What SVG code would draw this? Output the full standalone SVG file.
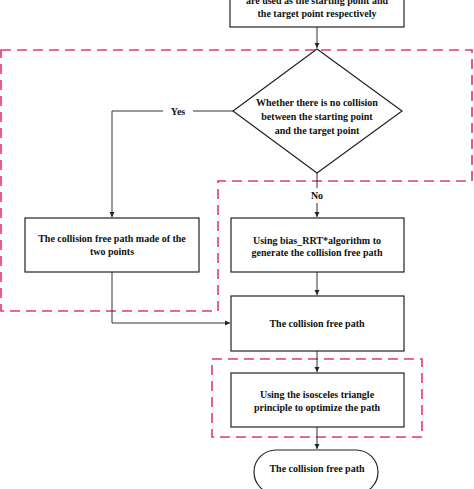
<svg xmlns="http://www.w3.org/2000/svg" width="474" height="489" viewBox="0 0 474 489">
<style>
.box{fill:#fff;stroke:#222;stroke-width:1.2}
.t{font-family:"Liberation Serif","Times New Roman",serif;font-weight:bold;font-size:10px;fill:#111;text-anchor:middle}
.c{fill:none;stroke:#333;stroke-width:1}
.d{fill:none;stroke:#e2386c;stroke-width:1.6;stroke-dasharray:10,6}
</style>
<defs>
<marker id="a" markerWidth="6" markerHeight="6" refX="5" refY="3" orient="auto" markerUnits="userSpaceOnUse">
<path d="M0,0.5 L5,3 L0,5.5 Z" fill="#222"/>
</marker>
</defs>
<g id="regions">
<path class="d" d="M1,50 H472 V181 H218 V311 H1 Z"/>
<rect class="d" x="212" y="359" width="210" height="78"/>
</g>
<g id="connectors">
<path class="c" d="M317,27 V48" marker-end="url(#a)"/>
<path class="c" d="M233,111 H193 M163,111 H112 V217" marker-end="url(#a)"/>
<path class="c" d="M317,173 V188 M317,203 V217" marker-end="url(#a)"/>
<path class="c" d="M317,272 V295" marker-end="url(#a)"/>
<path class="c" d="M112,272 V323 H230" marker-end="url(#a)"/>
<path class="c" d="M317,351 V372" marker-end="url(#a)"/>
<path class="c" d="M317,427 V449" marker-end="url(#a)"/>
<text class="t" x="178" y="115">Yes</text>
<text class="t" x="317" y="199">No</text>
</g>
<g id="start">
<rect class="box" x="230" y="-10" width="174" height="37"/>
<text class="t" x="317" y="4">are used as the starting point and</text>
<text class="t" x="317" y="17">the target point respectively</text>
</g>
<g id="decision">
<polygon class="box" points="317,49 402,111 317,173 233,111"/>
<text class="t" x="317" y="106">Whether there is no collision</text>
<text class="t" x="317" y="120">between the starting point</text>
<text class="t" x="317" y="134">and the target point</text>
</g>
<g id="twopoints">
<rect class="box" x="25" y="218" width="174" height="54"/>
<text class="t" x="112" y="242">The collision free path made of the</text>
<text class="t" x="112" y="255">two points</text>
</g>
<g id="rrt">
<rect class="box" x="231" y="218" width="173" height="54"/>
<text class="t" x="317" y="244">Using bias_RRT*algorithm to</text>
<text class="t" x="317" y="256">generate the collision free path</text>
</g>
<g id="path1">
<rect class="box" x="231" y="296" width="173" height="55"/>
<text class="t" x="317" y="327">The collision free path</text>
</g>
<g id="optimize">
<rect class="box" x="231" y="373" width="173" height="54"/>
<text class="t" x="317" y="398">Using the isosceles triangle</text>
<text class="t" x="317" y="411">principle to optimize the path</text>
</g>
<g id="end">
<rect class="box" x="254" y="450" width="124" height="44" rx="22" ry="22"/>
<text class="t" x="317" y="472">The collision free path</text>
</g>
</svg>
